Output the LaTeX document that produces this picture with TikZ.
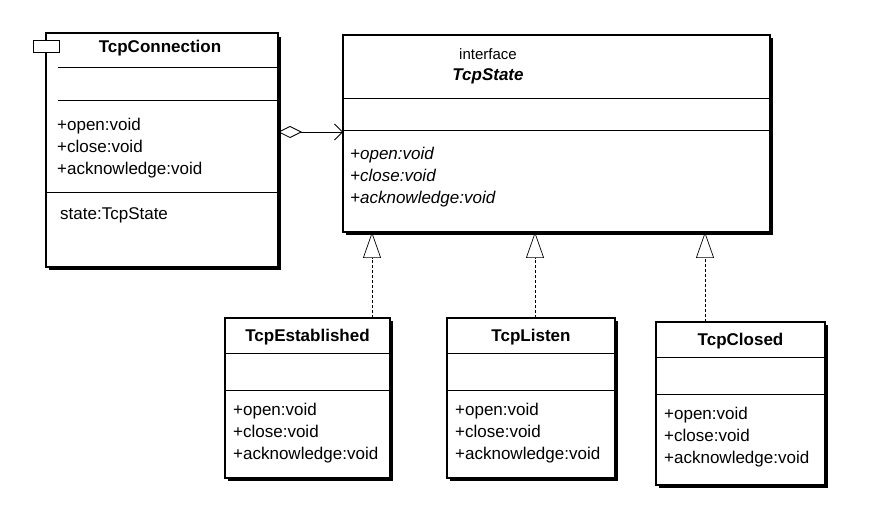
\documentclass[tikz,border=0pt]{standalone}
\usepackage{fontspec}
\setmainfont{Liberation Sans}
\usetikzlibrary{arrows.meta}
\begin{document}
\begin{tikzpicture}[x=1pt,y=-1pt,
  box/.style={draw,line width=1.2pt,fill=white},
  shadow/.style={fill=black},
  sep/.style={line width=0.9pt},
  txt/.style={anchor=base west,inner sep=0pt,font=\fontsize{17}{20}\selectfont},
  ttl/.style={anchor=base,inner sep=0pt,font=\fontsize{17}{20}\selectfont\bfseries},
  real/.style={draw,densely dashed,line width=0.7pt,-{Triangle[open,length=26pt,width=18pt]}}]
\useasboundingbox (0,0) rectangle (882,510);
% TcpConnection
\fill[shadow] (49,37) rectangle (281,270);
\draw[box] (46,33) rectangle (278,267);
\draw[box,line width=0.9pt] (33,40) rectangle (59,52);
\node[ttl] (conn) at (160,53) {TcpConnection};
\draw[sep] (58,67) -- (278,67);
\draw[sep] (58,100) -- (278,100);
\draw[sep] (46,192) -- (278,192);
\node[txt] (c1) at (57,131) {+open:void};
\node[txt] (c2) at (57,153) {+close:void};
\node[txt] (c3) at (57,175) {+acknowledge:void};
\node[txt] (c4) at (60,220) {state:TcpState};
\coordinate (cr) at (278,132);
% TcpState
\fill[shadow] (346,38) rectangle (773,235);
\draw[box] (343,35) rectangle (770,232);
\node[inner sep=0pt,anchor=base,font=\fontsize{15}{18}\selectfont] (i1) at (488,60) {interface};
\node[ttl,font=\fontsize{17}{20}\selectfont\bfseries\itshape] (st) at (488,81) {TcpState};
\draw[sep] (343,98) -- (770,98);
\draw[sep] (343,130) -- (770,130);
\node[txt,font=\fontsize{17}{20}\selectfont\itshape] (s1) at (350,160) {+open:void};
\node[txt,font=\fontsize{17}{20}\selectfont\itshape] (s2) at (350,182) {+close:void};
\node[txt,font=\fontsize{17}{20}\selectfont\itshape] (s3) at (350,204) {+acknowledge:void};
\coordinate (sl) at (343,132);
\draw[line width=0.8pt,{Diamond[open,length=24pt,width=12pt]}-{Straight Barb[length=8pt,width=16pt]}] (cr) -- (sl);
% subclasses
\foreach \n/\xa/\xb/\ya/\yb/\t/\tx in {E/225/390/318/478/TcpEstablished/372,L/447/615/318/478/TcpListen/535,C/656/825/322/485/TcpClosed/705}{
  \fill[shadow] (\xa+3,\ya+3) rectangle (\xb+3,\yb+3);
  \draw[box] (\xa,\ya) rectangle (\xb,\yb);
  \node[ttl] (t\n) at ({(\xa+\xb)/2},\ya+23) {\t};
  \draw[sep] (\xa,\ya+35) -- (\xb,\ya+35);
  \draw[sep] (\xa,\ya+72) -- (\xb,\ya+72);
  \node[txt] (a\n) at (\xa+8,\ya+97) {+open:void};
  \node[txt] (b\n) at (\xa+8,\ya+119) {+close:void};
  \node[txt] (d\n) at (\xa+8,\ya+141) {+acknowledge:void};
  \coordinate (top\n) at (\tx,\ya);
  \coordinate (up\n) at (\tx,232);
  \draw[real] (top\n) -- (up\n);
}
\end{tikzpicture}
\end{document}
